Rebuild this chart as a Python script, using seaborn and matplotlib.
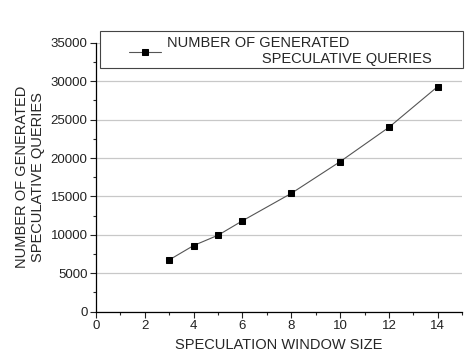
import pandas as pd
import matplotlib.pyplot as plt
from matplotlib.ticker import MultipleLocator
from matplotlib.patches import Rectangle
import seaborn as sns

sns.set_theme(style="white")
plt.rcParams['font.family'] = ['Liberation Sans', 'DejaVu Sans']

window_size = [3, 4, 5, 6, 8, 10, 12, 14]
generated_queries = [6740, 8610, 9950, 11830, 15400, 19530, 24000, 29310]

df = pd.DataFrame({'window': window_size, 'queries': generated_queries})

fig = plt.figure(figsize=(4.74, 3.57), dpi=100)
ax = fig.add_axes([0.2025, 0.127, 0.7725, 0.753])

sns.lineplot(data=df, x='window', y='queries', ax=ax, color='#555555', linewidth=0.8,
             marker='s', markersize=4.5, markerfacecolor='black', markeredgecolor='black',
             label='NUMBER OF GENERATED\n                       SPECULATIVE QUERIES')

ax.set_xlim(0, 15)
ax.set_ylim(0, 35000)
ax.xaxis.set_major_locator(MultipleLocator(2))
ax.xaxis.set_minor_locator(MultipleLocator(1))
ax.yaxis.set_major_locator(MultipleLocator(5000))
ax.yaxis.set_minor_locator(MultipleLocator(2500))
ax.tick_params(which='major', direction='out', length=4, width=0.8, labelsize=9.5,
               bottom=True, left=True, colors='#222222', pad=2)
ax.tick_params(which='minor', direction='out', length=2.5, width=0.8, bottom=True, left=True)
ax.yaxis.grid(True, color='#c8c8c8', linewidth=0.9)
for s in ['top', 'right']:
    ax.spines[s].set_visible(False)
for s in ['left', 'bottom']:
    ax.spines[s].set_color('black')
    ax.spines[s].set_linewidth(0.9)

ax.set_xlabel('SPECULATION WINDOW SIZE', fontsize=10.5, labelpad=4)
ax.set_ylabel('NUMBER OF GENERATED\nSPECULATIVE QUERIES', fontsize=10.5, labelpad=4)

# legend frame drawn separately so the handle can sit indented
frame = Rectangle((0.011, 0.907), 0.992, 0.138, transform=ax.transAxes, fill=True,
                  facecolor='white', edgecolor='#444444', linewidth=0.8, clip_on=False, zorder=3)
ax.add_patch(frame)
leg = ax.legend(loc='upper left', bbox_to_anchor=(0.09, 1.025), frameon=False, fontsize=10.5,
                handlelength=2.2, handletextpad=0.4, borderpad=0, borderaxespad=0)
leg.set_zorder(4)

plt.savefig('out.png', dpi=100)
